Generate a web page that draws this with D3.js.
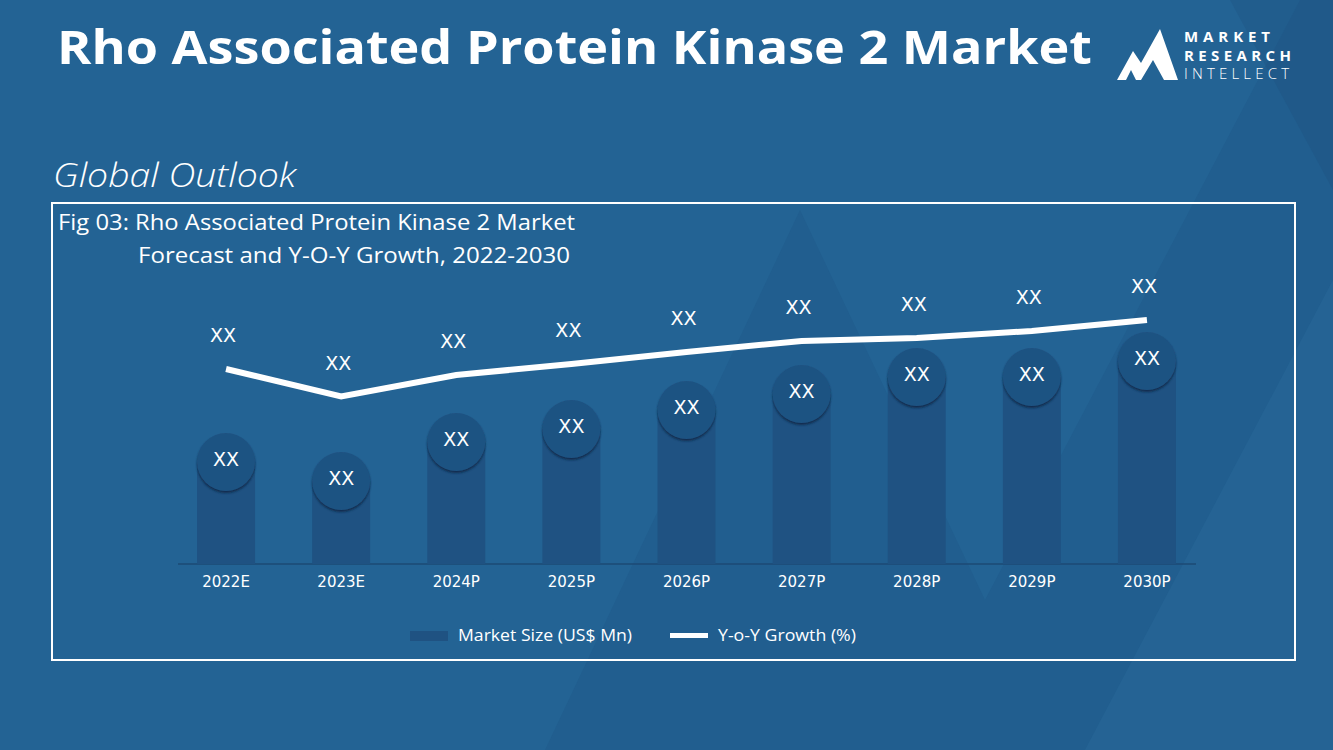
<!DOCTYPE html>
<html>
<head>
<meta charset="utf-8">
<script src="https://cdn.jsdelivr.net/npm/d3@7"></script>
<style>
  html, body { margin: 0; padding: 0; background: #236394; }
  svg { display: block; }
</style>
</head>
<body>
<svg id="chart" width="1333" height="750"></svg>
<script>
// ---- data ----
const categories = ["2022E", "2023E", "2024P", "2025P", "2026P", "2027P", "2028P", "2029P", "2030P"];
const marketSize = [10.2, 8.3, 12.2, 13.5, 15.4, 17.0, 18.7, 18.7, 20.3];
const yoyGrowth = [7.8, 6.7, 7.56, 8.0, 8.48, 8.92, 9.04, 9.32, 9.76];
const barLabels = ["XX", "XX", "XX", "XX", "XX", "XX", "XX", "XX", "XX"];
const lineLabels = ["XX", "XX", "XX", "XX", "XX", "XX", "XX", "XX", "XX"];
const legendLabels = ["Market Size (US$ Mn)", "Y-o-Y Growth (%)"];
const titleText = "Rho Associated Protein Kinase 2 Market";
const subtitleText = "Global Outlook";
const figLine1 = "Fig 03: Rho Associated Protein Kinase 2 Market";
const figLine2 = "Forecast and Y-O-Y Growth, 2022-2030";

const BG = "#236394";
const BAR = "#1f5282";
const SANS = "'Open Sans', sans-serif";
const WIDE = "'DejaVu Sans', sans-serif";
const svg = d3.select("#chart");

// background
svg.append("rect").attr("width", 1333).attr("height", 750).attr("fill", BG);
const deco = svg.append("g");
deco.append("polygon")
  .attr("points", "545,750 800,210 985,600 1300,0 1333,0 1333,750")
  .attr("fill", "#1d4f7e").attr("opacity", 0.25);
deco.append("polygon")
  .attr("points", "1085,750 1333,280 1333,750")
  .attr("fill", "#2a6a9c").attr("opacity", 0.45);
deco.append("polygon")
  .attr("points", "1230,0 1333,0 1333,190")
  .attr("fill", "#1d4f7e").attr("opacity", 0.3);

const defs = svg.append("defs");
const f = defs.append("filter").attr("id", "shadow")
  .attr("x", "-30%").attr("y", "-30%").attr("width", "160%").attr("height", "170%");
f.append("feDropShadow").attr("dx", 0).attr("dy", 2).attr("stdDeviation", 1.2)
  .attr("flood-color", "#0b2a48").attr("flood-opacity", 0.9);

// title
svg.append("text").attr("x", 57).attr("y", 64)
  .attr("font-family", SANS).attr("font-weight", 700)
  .attr("font-size", 47).attr("fill", "#fff")
  .attr("textLength", 1035).attr("lengthAdjust", "spacingAndGlyphs")
  .text(titleText);

// logo
const logo = svg.append("g");
logo.append("polygon")
  .attr("points", "1117,80 1133,51 1141,63 1160,29 1178,80 1164,80 1153,60 1141,80 1136,80 1131,70 1126,80")
  .attr("fill", "#fff");
[["MARKET", 42, 700, 86], ["RESEARCH", 61, 700, 107], ["INTELLECT", 79, 300, 105]].forEach(([t, y, w, len]) => {
  logo.append("text").attr("x", 1184).attr("y", y)
    .attr("font-family", SANS).attr("font-weight", w)
    .attr("font-size", 15).attr("textLength", len).attr("lengthAdjust", "spacing")
    .attr("fill", "#fff").text(t);
});

// subtitle
svg.append("text").attr("x", 53).attr("y", 187)
  .attr("font-family", SANS).attr("font-style", "italic").attr("font-weight", 300)
  .attr("font-size", 33).attr("fill", "#fff")
  .attr("textLength", 243).attr("lengthAdjust", "spacingAndGlyphs")
  .text(subtitleText);

// frame
svg.append("rect").attr("x", 52).attr("y", 203).attr("width", 1243).attr("height", 457)
  .attr("fill", "none").attr("stroke", "#fff").attr("stroke-width", 2);

svg.append("text").attr("x", 58).attr("y", 230)
  .attr("font-family", SANS).attr("font-size", 22).attr("fill", "#fff")
  .attr("textLength", 517).attr("lengthAdjust", "spacingAndGlyphs")
  .text(figLine1);
svg.append("text").attr("x", 138).attr("y", 263)
  .attr("font-family", SANS).attr("font-size", 22).attr("fill", "#fff")
  .attr("textLength", 432).attr("lengthAdjust", "spacingAndGlyphs")
  .text(figLine2);

// scales
const x = d3.scaleBand().domain(categories).range([168.5, 1204.5]).paddingInner(0).paddingOuter(0);
const y = d3.scaleLinear().domain([0, 30]).range([564, 264]);
const y2 = d3.scaleLinear().domain([0, 12]).range([564, 264]);
const barW = 58;
const cx = d => x(d) + x.bandwidth() / 2;

// axis
const axis = svg.append("g").attr("transform", "translate(0,564)")
  .call(d3.axisBottom(x).tickSize(0).tickPadding(12));
axis.select(".domain").attr("stroke", "#1c4a74").attr("stroke-width", 1.5)
  .attr("d", "M178,0H1196");
axis.selectAll("text").attr("fill", "#fff").attr("font-size", 15)
  .attr("font-family", WIDE).attr("font-weight", 400);

// bars
const data = categories.map((c, i) => ({ c, v: marketSize[i], g: yoyGrowth[i], bl: barLabels[i], ll: lineLabels[i] }));
svg.append("g").selectAll("rect").data(data).join("rect")
  .attr("x", d => cx(d.c) - barW / 2).attr("width", barW)
  .attr("y", d => y(d.v)).attr("height", d => y(0) - y(d.v))
  .attr("fill", BAR);

// circles
svg.append("g").selectAll("circle").data(data).join("circle")
  .attr("cx", d => cx(d.c)).attr("cy", d => y(d.v)).attr("r", 29)
  .attr("fill", BAR).attr("filter", "url(#shadow)");
svg.append("g").selectAll("text").data(data).join("text")
  .attr("x", d => cx(d.c)).attr("y", d => y(d.v) + 4)
  .attr("text-anchor", "middle").attr("fill", "#fff")
  .attr("font-family", WIDE).attr("font-size", 19)
  .text(d => d.bl);

// line
const line = d3.line().x(d => cx(d.c)).y(d => y2(d.g));
svg.append("path").datum(data).attr("d", line)
  .attr("fill", "none").attr("stroke", "#fff").attr("stroke-width", 6);
svg.append("g").selectAll("text").data(data).join("text")
  .attr("x", d => cx(d.c) - 3).attr("y", d => y2(d.g) - 27)
  .attr("text-anchor", "middle").attr("fill", "#fff")
  .attr("font-family", WIDE).attr("font-size", 19)
  .text(d => d.ll);

// legend
const lg = svg.append("g");
lg.append("rect").attr("x", 410).attr("y", 631).attr("width", 38).attr("height", 10).attr("fill", BAR);
lg.append("text").attr("x", 458).attr("y", 641)
  .attr("font-family", SANS).attr("font-size", 16).attr("fill", "#fff")
  .attr("textLength", 174).attr("lengthAdjust", "spacingAndGlyphs")
  .text(legendLabels[0]);
lg.append("rect").attr("x", 670).attr("y", 633).attr("width", 38).attr("height", 5).attr("fill", "#fff");
lg.append("text").attr("x", 718).attr("y", 641)
  .attr("font-family", SANS).attr("font-size", 16).attr("fill", "#fff")
  .attr("textLength", 138).attr("lengthAdjust", "spacingAndGlyphs")
  .text(legendLabels[1]);
</script>
</body>
</html>
